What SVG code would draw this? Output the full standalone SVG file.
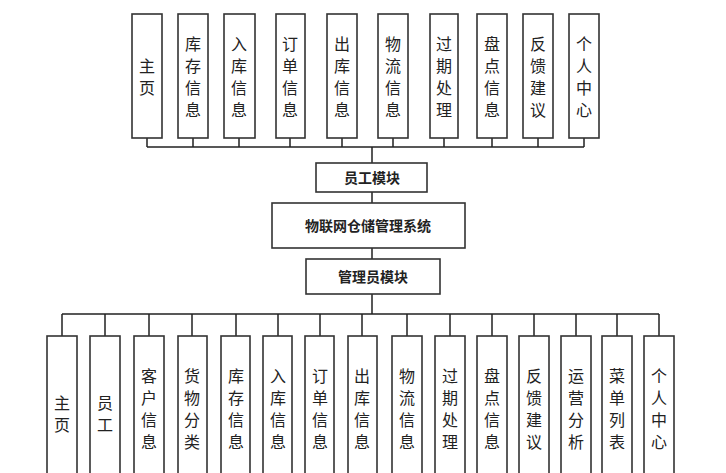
<svg xmlns="http://www.w3.org/2000/svg" width="726" height="473" viewBox="0 0 726 473">
<style>
rect{fill:#fff;stroke:#333;stroke-width:1.6}
.c line,.c path{stroke:#222;stroke-width:1.5;fill:none}
text{font-family:"Noto Sans CJK SC","Liberation Sans",sans-serif;fill:#222;text-anchor:middle}
.v{font-size:16px}
.m{font-size:14px;font-weight:bold}
</style>
<rect x="0" y="0" width="726" height="473" style="fill:#fff;stroke:none"/>
<g class="c" id="connectors">
<path d="M147 138V147M193 138V147M239 138V147M290 138V147M342 138V147M393 138V147M444 138V147M492 138V147M538 138V147M584 138V147M147 147H584M372 147V163M372 192V203M372 248V259M372 294V314M62 314H659"/>
<path d="M62 314V336M105 314V336M149 314V336M192 314V336M236 314V336M278 314V336M320 314V336M362 314V336M407 314V336M450 314V336M492 314V336M534 314V336M576 314V336M617 314V336M659 314V336"/>
</g>
<g id="emp"><rect x="316" y="163" width="111" height="29"/><text class="m" x="372" y="183">员工模块</text></g>
<g id="sys"><rect x="272" y="203" width="193" height="45"/><text class="m" x="368" y="231">物联网仓储管理系统</text></g>
<g id="adm"><rect x="306" y="259" width="134" height="35"/><text class="m" x="373" y="282">管理员模块</text></g>
<g id="t1"><rect x="132" y="14" width="30" height="124"/><text class="v" x="147"><tspan x="147" y="72">主</tspan><tspan x="147" y="94">页</tspan></text></g>
<g id="t2"><rect x="178" y="14" width="30" height="124"/><text class="v"><tspan x="193" y="50">库</tspan><tspan x="193" y="72">存</tspan><tspan x="193" y="94">信</tspan><tspan x="193" y="116">息</tspan></text></g>
<g id="t3"><rect x="224" y="14" width="31" height="124"/><text class="v"><tspan x="239" y="50">入</tspan><tspan x="239" y="72">库</tspan><tspan x="239" y="94">信</tspan><tspan x="239" y="116">息</tspan></text></g>
<g id="t4"><rect x="276" y="14" width="29" height="124"/><text class="v"><tspan x="290" y="50">订</tspan><tspan x="290" y="72">单</tspan><tspan x="290" y="94">信</tspan><tspan x="290" y="116">息</tspan></text></g>
<g id="t5"><rect x="327" y="14" width="30" height="124"/><text class="v"><tspan x="342" y="50">出</tspan><tspan x="342" y="72">库</tspan><tspan x="342" y="94">信</tspan><tspan x="342" y="116">息</tspan></text></g>
<g id="t6"><rect x="378" y="14" width="30" height="124"/><text class="v"><tspan x="393" y="50">物</tspan><tspan x="393" y="72">流</tspan><tspan x="393" y="94">信</tspan><tspan x="393" y="116">息</tspan></text></g>
<g id="t7"><rect x="430" y="14" width="28" height="124"/><text class="v"><tspan x="444" y="50">过</tspan><tspan x="444" y="72">期</tspan><tspan x="444" y="94">处</tspan><tspan x="444" y="116">理</tspan></text></g>
<g id="t8"><rect x="477" y="14" width="30" height="124"/><text class="v"><tspan x="492" y="50">盘</tspan><tspan x="492" y="72">点</tspan><tspan x="492" y="94">信</tspan><tspan x="492" y="116">息</tspan></text></g>
<g id="t9"><rect x="523" y="14" width="30" height="124"/><text class="v"><tspan x="538" y="50">反</tspan><tspan x="538" y="72">馈</tspan><tspan x="538" y="94">建</tspan><tspan x="538" y="116">议</tspan></text></g>
<g id="t10"><rect x="569" y="14" width="30" height="124"/><text class="v"><tspan x="584" y="50">个</tspan><tspan x="584" y="72">人</tspan><tspan x="584" y="94">中</tspan><tspan x="584" y="116">心</tspan></text></g>
<g id="b1"><rect x="47" y="336" width="30" height="150"/><text class="v"><tspan x="62" y="409">主</tspan><tspan x="62" y="431">页</tspan></text></g>
<g id="b2"><rect x="90" y="336" width="30" height="150"/><text class="v"><tspan x="105" y="409">员</tspan><tspan x="105" y="431">工</tspan></text></g>
<g id="b3"><rect x="134" y="336" width="30" height="150"/><text class="v"><tspan x="149" y="382">客</tspan><tspan x="149" y="404">户</tspan><tspan x="149" y="426">信</tspan><tspan x="149" y="448">息</tspan></text></g>
<g id="b4"><rect x="178" y="336" width="29" height="150"/><text class="v"><tspan x="192" y="382">货</tspan><tspan x="192" y="404">物</tspan><tspan x="192" y="426">分</tspan><tspan x="192" y="448">类</tspan></text></g>
<g id="b5"><rect x="221" y="336" width="29" height="150"/><text class="v"><tspan x="236" y="382">库</tspan><tspan x="236" y="404">存</tspan><tspan x="236" y="426">信</tspan><tspan x="236" y="448">息</tspan></text></g>
<g id="b6"><rect x="263" y="336" width="29" height="150"/><text class="v"><tspan x="278" y="382">入</tspan><tspan x="278" y="404">库</tspan><tspan x="278" y="426">信</tspan><tspan x="278" y="448">息</tspan></text></g>
<g id="b7"><rect x="305" y="336" width="29" height="150"/><text class="v"><tspan x="320" y="382">订</tspan><tspan x="320" y="404">单</tspan><tspan x="320" y="426">信</tspan><tspan x="320" y="448">息</tspan></text></g>
<g id="b8"><rect x="348" y="336" width="29" height="150"/><text class="v"><tspan x="362" y="382">出</tspan><tspan x="362" y="404">库</tspan><tspan x="362" y="426">信</tspan><tspan x="362" y="448">息</tspan></text></g>
<g id="b9"><rect x="392" y="336" width="30" height="150"/><text class="v"><tspan x="407" y="382">物</tspan><tspan x="407" y="404">流</tspan><tspan x="407" y="426">信</tspan><tspan x="407" y="448">息</tspan></text></g>
<g id="b10"><rect x="435" y="336" width="30" height="150"/><text class="v"><tspan x="450" y="382">过</tspan><tspan x="450" y="404">期</tspan><tspan x="450" y="426">处</tspan><tspan x="450" y="448">理</tspan></text></g>
<g id="b11"><rect x="477" y="336" width="30" height="150"/><text class="v"><tspan x="492" y="382">盘</tspan><tspan x="492" y="404">点</tspan><tspan x="492" y="426">信</tspan><tspan x="492" y="448">息</tspan></text></g>
<g id="b12"><rect x="519" y="336" width="30" height="150"/><text class="v"><tspan x="534" y="382">反</tspan><tspan x="534" y="404">馈</tspan><tspan x="534" y="426">建</tspan><tspan x="534" y="448">议</tspan></text></g>
<g id="b13"><rect x="561" y="336" width="30" height="150"/><text class="v"><tspan x="576" y="382">运</tspan><tspan x="576" y="404">营</tspan><tspan x="576" y="426">分</tspan><tspan x="576" y="448">析</tspan></text></g>
<g id="b14"><rect x="602" y="336" width="30" height="150"/><text class="v"><tspan x="617" y="382">菜</tspan><tspan x="617" y="404">单</tspan><tspan x="617" y="426">列</tspan><tspan x="617" y="448">表</tspan></text></g>
<g id="b15"><rect x="644" y="336" width="30" height="150"/><text class="v"><tspan x="659" y="382">个</tspan><tspan x="659" y="404">人</tspan><tspan x="659" y="426">中</tspan><tspan x="659" y="448">心</tspan></text></g>
</svg>
